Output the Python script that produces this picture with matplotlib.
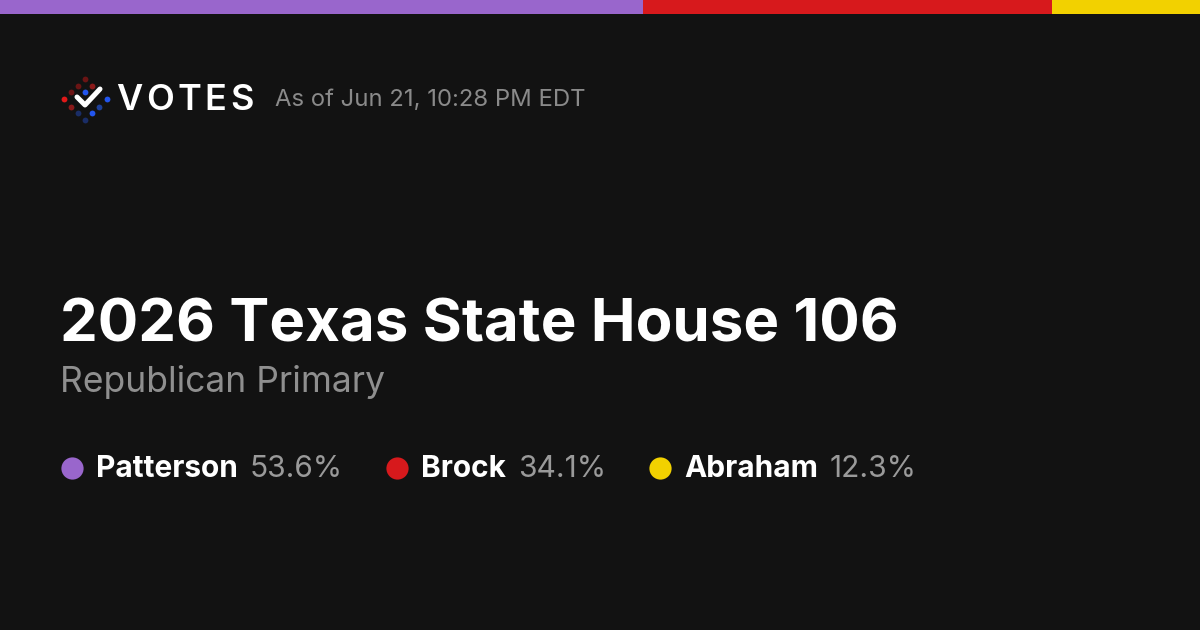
import matplotlib
matplotlib.use("Agg")
import matplotlib.pyplot as plt

names = ["Patterson", "Brock", "Abraham"]
shares = [53.6, 34.1, 12.3]
colors = ["#9966cc", "#d7191c", "#f2d100"]
title = "2026 Texas State House 106"
subtitle = "Republican Primary"
stamp = "As of Jun 21, 10:28 PM EDT"
brand = "VOTES"

bg = "#121212"
fig = plt.figure(figsize=(12, 6.3), dpi=100, facecolor=bg)
ax = fig.add_axes([0, 0, 1, 1])
ax.set_xlim(0, 1200)
ax.set_ylim(630, 0)
ax.axis("off")
ax.set_facecolor(bg)

# top bar split by share
left = 0
for s, c in zip(shares, colors):
    w = 1200 * s / sum(shares)
    ax.barh(7, w, height=14, left=left, color=c, linewidth=0)
    left += w

# logo dots
dots = [(85, 79, "#6b1414"), (78, 86, "#6b1414"), (92, 86, "#8a1a1a"),
        (71, 92, "#6b1414"), (85, 92, "#2255ee"), (64, 99, "#e01818"),
        (107, 99, "#2255ee"), (71, 107, "#8a1a1a"), (99, 107, "#1d3f99"),
        (78, 113, "#1a2d66"), (92, 113, "#2255ee"), (85, 120, "#1a2d66")]
for x, y, c in dots:
    ax.plot(x, y, "o", ms=4.2, color=c, mec="none")
ax.plot([77, 85, 100], [97, 105, 89], color="white", lw=3.6, solid_capstyle="round", solid_joinstyle="round")

fig.canvas.draw()
r = fig.canvas.get_renderer()

# letter-spaced brand
x = 116
for ch in brand:
    t = ax.text(x, 100, ch, color="white", fontsize=26, family="Inter", weight="semibold", va="center")
    x += t.get_window_extent(r).width + 3.5
ax.text(275, 100, stamp, color="#8a8a8a", fontsize=17.2, family="Inter", va="center")

ax.text(60, 326, title, color="white", fontsize=43.2, family="Inter", weight="bold", va="center")
ax.text(60, 382, subtitle, color="#8f8f8f", fontsize=25.5, family="Inter", va="center")

x = 60
for n, s, c in zip(names, shares, colors):
    ax.plot(x + 12, 468, "o", ms=16, color=c, mec="none")
    t = ax.text(x + 36, 469, n, color="white", fontsize=21.5, family="Inter", weight="bold", va="center")
    x2 = x + 36 + t.get_window_extent(r).width + 12
    t2 = ax.text(x2, 469, f"{s}%", color="#9a9a9a", fontsize=21.5, family="Inter", va="center")
    x = x2 + t2.get_window_extent(r).width + 42

fig.savefig("out.png", dpi=100, facecolor=bg)
